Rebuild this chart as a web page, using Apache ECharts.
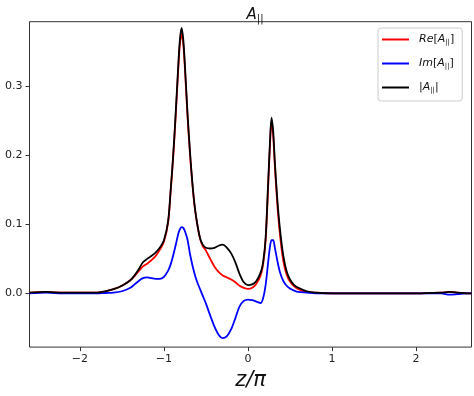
<!DOCTYPE html>
<html>
<head>
<meta charset="utf-8">
<script src="https://cdn.jsdelivr.net/npm/echarts@6/dist/echarts.min.js"></script>
<style>
html,body{margin:0;padding:0;background:#fff;}
#c{width:474px;height:396px;}
</style>
</head>
<body>
<div id="c"></div>
<script>
// z / pi positions
const zVals = [-2.6,-2.4,-2.2,-2.0,-1.8,-1.7,-1.6,-1.5,-1.4,-1.35,-1.3,-1.25,-1.2,-1.15,-1.1,-1.05,-1.0,-0.95,-0.92,-0.89,-0.86,-0.83,-0.81,-0.79,-0.77,-0.75,-0.72,-0.69,-0.66,-0.63,-0.6,-0.57,-0.54,-0.5,-0.45,-0.4,-0.35,-0.3,-0.25,-0.2,-0.15,-0.1,-0.05,0,0.05,0.1,0.15,0.18,0.21,0.24,0.26,0.28,0.30,0.32,0.35,0.38,0.42,0.46,0.5,0.55,0.6,0.7,0.8,1.0,1.5,2.0,2.3,2.4,2.5,2.6,2.66];
const reVals = [0.001,0.002,0.001,0.001,0.001,0.003,0.006,0.011,0.019,0.025,0.032,0.039,0.043,0.048,0.054,0.063,0.075,0.103,0.148,0.198,0.258,0.324,0.362,0.376,0.362,0.325,0.258,0.202,0.156,0.121,0.097,0.079,0.069,0.062,0.050,0.039,0.031,0.026,0.023,0.020,0.016,0.011,0.008,0.0065,0.008,0.014,0.026,0.042,0.077,0.155,0.210,0.249,0.229,0.184,0.128,0.086,0.047,0.027,0.017,0.010,0.006,0.002,0.001,0.0,0.0,0.0,0.001,0.002,0.001,0.0,0.0];
const imVals = [0.0,0.001,0.0,0.0,0.0,0.0005,0.001,0.003,0.008,0.013,0.018,0.022,0.023,0.022,0.021,0.021,0.024,0.033,0.042,0.055,0.070,0.086,0.093,0.096,0.095,0.090,0.078,0.057,0.040,0.026,0.015,0.006,-0.003,-0.015,-0.032,-0.048,-0.060,-0.065,-0.062,-0.052,-0.036,-0.019,-0.011,-0.009,-0.010,-0.012,-0.014,-0.007,0.012,0.045,0.066,0.077,0.077,0.066,0.047,0.031,0.018,0.011,0.007,0.004,0.002,0.001,0.0,0.0,0.0,0.0,0.0,-0.002,-0.001,0.0,0.0];
const absVals = [0.001,0.002,0.001,0.001,0.001,0.003,0.006,0.011,0.019,0.026,0.035,0.045,0.050,0.054,0.059,0.066,0.077,0.105,0.150,0.200,0.262,0.330,0.368,0.385,0.368,0.330,0.262,0.205,0.158,0.122,0.098,0.080,0.071,0.066,0.065,0.066,0.069,0.0705,0.066,0.058,0.045,0.028,0.016,0.012,0.013,0.018,0.030,0.045,0.080,0.160,0.215,0.255,0.235,0.190,0.135,0.094,0.055,0.032,0.020,0.012,0.008,0.003,0.001,0.0,0.0,0.0,0.001,0.002,0.001,0.0,0.0];
const xTicks = [-2,-1,0,1,2];
const yTicks = [0.0,0.1,0.2,0.3];
const seriesNames = ['Re[A||]','Im[A||]','|A||'];

function pairs(vals){ return zVals.map((z,i)=>[z, vals[i]]); }

const chart = echarts.init(document.getElementById('c'), null, {renderer:'canvas'});
const richTxt = {
  i:{fontStyle:'italic',fontWeight:'normal',fontSize:11,fontFamily:'DejaVu Sans',color:'#111'},
  n:{fontWeight:'normal',fontSize:11,fontFamily:'DejaVu Sans',color:'#111'},
  s:{fontWeight:'normal',fontSize:7,fontFamily:'DejaVu Sans',color:'#111',padding:[6,0,0,0]},
  p:{padding:[0,0,0,5],fontSize:11}
};
function legendFmt(name){
  if(name===seriesNames[0]) return '{p|}{i|Re}{n|[}{i|A}{s|||}{n|]}';
  if(name===seriesNames[1]) return '{p|}{i|Im}{n|[}{i|A}{s|||}{n|]}';
  return '{p|}{n||}{i|A}{s|||}{n||}';
}
const lineColors = ['#ff0000','#0000ff','#000000'];
chart.setOption({
  animation:false,
  backgroundColor:'#fff',
  title:{
    text:'{a|A}{s|||}',
    left:250, top:1, textAlign:'center',
    textStyle:{fontWeight:'normal',rich:{
      a:{fontStyle:'italic',fontWeight:'normal',fontSize:15,fontFamily:'DejaVu Sans',color:'#111'},
      s:{fontWeight:'normal',fontSize:10,fontFamily:'DejaVu Sans',color:'#111',padding:[8,0,0,0]}
    }}
  },
  grid:{left:29.5,top:21.7,right:2.5,bottom:46.7,show:true,borderColor:'#333',borderWidth:1,backgroundColor:'transparent'},
  legend:{
    orient:'vertical', left:378, top:28,
    data:seriesNames,
    icon:'rect',
    itemWidth:27, itemHeight:2, itemGap:12,
    padding:[6,8,7,4],
    borderColor:'#ccc', borderWidth:1, borderRadius:3,
    backgroundColor:'rgba(255,255,255,0.85)',
    formatter:legendFmt,
    textStyle:{rich:richTxt}
  },
  xAxis:{
    type:'value', min:-2.6, max:2.66,
    name:'z/π', nameLocation:'middle', nameGap:19,
    nameTextStyle:{fontStyle:'italic',fontSize:21,fontFamily:'DejaVu Sans',color:'#111'},
    axisLine:{show:false,onZero:false},
    splitLine:{show:false},
    axisTick:{show:true,length:4,lineStyle:{color:'#333'},customValues:xTicks},
    axisLabel:{fontSize:11,fontFamily:'DejaVu Sans',color:'#222',margin:7,customValues:xTicks,
      formatter:v=>String(v).replace('-','\u2212')}
  },
  yAxis:{
    type:'value', min:-0.078, max:0.394,
    axisLine:{show:false,onZero:false},
    splitLine:{show:false},
    axisTick:{show:true,length:4,lineStyle:{color:'#333'},customValues:yTicks},
    axisLabel:{fontSize:11,fontFamily:'DejaVu Sans',color:'#222',margin:7,customValues:yTicks,
      formatter:v=>v.toFixed(1)}
  },
  series:[
    {name:seriesNames[0],type:'line',data:pairs(reVals),showSymbol:false,symbol:'none',smooth:0.3,
      lineStyle:{color:lineColors[0],width:1.8},itemStyle:{color:lineColors[0]}},
    {name:seriesNames[1],type:'line',data:pairs(imVals),showSymbol:false,symbol:'none',smooth:0.3,
      lineStyle:{color:lineColors[1],width:1.8},itemStyle:{color:lineColors[1]}},
    {name:seriesNames[2],type:'line',data:pairs(absVals),showSymbol:false,symbol:'none',smooth:0.3,
      lineStyle:{color:lineColors[2],width:1.8},itemStyle:{color:lineColors[2]}}
  ]
});
</script>
</body>
</html>
